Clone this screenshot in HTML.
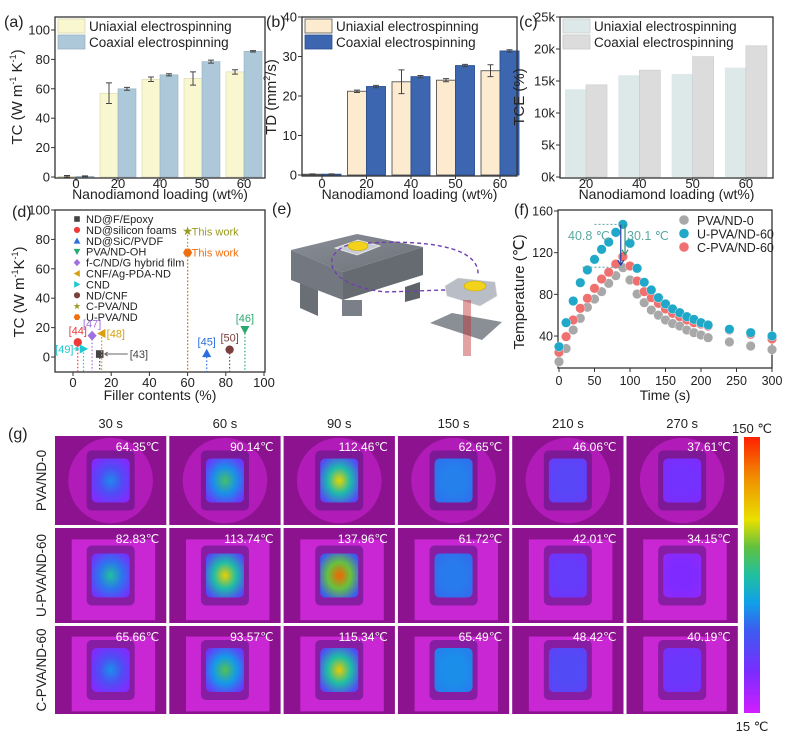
<!DOCTYPE html>
<html><head><meta charset="utf-8"><style>
body{margin:0;background:#fff;}
svg{display:block;font-family:"Liberation Sans",sans-serif;}
</style></head><body>
<svg id="fig" width="794" height="737" viewBox="0 0 794 737" xmlns="http://www.w3.org/2000/svg">
<defs>
<linearGradient id="cbar" x1="0" y1="1" x2="0" y2="0">
<stop offset="0" stop-color="#d21eff"/><stop offset="0.15" stop-color="#7a2cff"/><stop offset="0.3" stop-color="#3c5cf0"/><stop offset="0.4" stop-color="#10a0e8"/><stop offset="0.5" stop-color="#20c0a0"/><stop offset="0.6" stop-color="#60c040"/><stop offset="0.7" stop-color="#e8e000"/><stop offset="0.85" stop-color="#f09000"/><stop offset="1" stop-color="#ff2000"/>
</linearGradient>
<linearGradient id="boxTop" x1="0" y1="0" x2="1" y2="1"><stop offset="0" stop-color="#8a8f98"/><stop offset="1" stop-color="#6d7279"/></linearGradient>
</defs>
</svg>
<script>
// ---- data ----
var aCats=["0","20","40","50","60"];
var aUni=[0.5,57,66.5,67,71.5];
var aCo=[0.5,60,69.5,78.5,85.5];
var aUniErr=[0.5,7,1.5,4.5,1.5];
var aCoErr=[0.3,1,0.7,1,0.5];
var aTicks=[0,20,40,60,80,100];

var bCats=["0","20","40","50","60"];
var bUni=[0.2,21.2,23.6,24,26.4];
var bCo=[0.2,22.4,24.9,27.7,31.4];
var bUniErr=[0.1,0.3,3,0.4,1.5];
var bCoErr=[0.1,0.3,0.3,0.3,0.3];
var bTicks=[0,10,20,30,40];

var cCats=["20","40","50","60"];
var cUni=[13.7,15.9,16.1,17.1];
var cCo=[14.4,16.7,18.8,20.5];
var cTicks=[0,5,10,15,20,25];

var dNames=["ND@F/Epoxy","ND@silicon foams","ND@SiC/PVDF","PVA/ND-OH","f-C/ND/G hybrid film","CNF/Ag-PDA-ND","CND","ND/CNF","C-PVA/ND","U-PVA/ND"];
var dX=[14,2.5,70,90,10,15,5.5,82,60,60];
var dY=[2,10,2.5,18.5,14.5,16,5.5,5,85.5,71];
var dRefs=["[43]","[44]","[45]","[46]","[47]","[48]","[49]","[50]","This work","This work"];
var dColors=["#444444","#f03a3a","#2a6ee0","#2aa870","#a070e0","#d8a010","#20c8d0","#7a4040","#9a9a20","#f07010"];
var dMarkers=["square","circle","tri","dtri","diamond","ltri","rtri","circle","star","hex"];
var dXTicks=[0,20,40,60,80,100];
var dYTicks=[0,20,40,60,80,100];

var fTime=[0,10,20,30,40,50,60,70,80,90,100,110,120,130,140,150,160,170,180,190,200,210,240,270,300];
var fPVA=[15.4,28,45.8,57,67.6,75.5,82.6,90.6,97.9,105.6,93.8,80.3,72,65,60,55.4,52,49.6,45.8,43.2,41,38.4,34.3,30.4,27];
var fU=[29.8,52.8,73.6,91.2,103.4,113.6,123.2,130.2,139.5,147.2,129,105,91.6,84.2,76.8,70.8,66,62.4,58.6,56,52.8,50.6,46.5,43.2,40];
var fC=[24.4,39.4,55.4,66.6,76.2,85.8,94.7,101.2,109.1,116.1,107.2,92.8,82.6,76.8,71.4,66,61.8,58.6,55.4,52.8,51.5,49.6,45.8,41.7,37.2];
var fXTicks=[0,50,100,150,200,250,300];
var fYTicks=[40,80,120,160];

var gTimes=["30 s","60 s","90 s","150 s","210 s","270 s"];
var gRows=["PVA/ND-0","U-PVA/ND-60","C-PVA/ND-60"];
var gT0=[64.35,90.14,112.46,62.65,46.06,37.61];
var gT1=[82.83,113.74,137.96,61.72,42.01,34.15];
var gT2=[65.66,93.57,115.34,65.49,48.42,40.19];

// ---- helpers ----
var NS="http://www.w3.org/2000/svg";
var svg=document.getElementById('fig');
function mk(tag,attrs,parent){var e=document.createElementNS(NS,tag);for(var k in attrs)e.setAttribute(k,attrs[k]);(parent||svg).appendChild(e);return e;}
function txt(s,x,y,size,anchor,parent,fill){var e=mk('text',{x:x,y:y,'font-size':size,'text-anchor':anchor||'start',fill:fill||'#222'},parent);e.textContent=s;return e;}

// ---- generic bar panel ----
function barPanel(p){
  var g=mk('g',{});
  
  
  function X(i){return p.x0+p.dx*i;}
  function Y(v){return p.yb-(v-0)*p.k;}
  for(var i=0;i<p.cats.length;i++){
    var cx=X(i);
    var r1=mk('rect',{x:cx-p.bw,y:Y(p.uni[i]),width:p.bw,height:Y(0)-Y(p.uni[i]),fill:p.c1,stroke:p.s1,'stroke-width':p.sw},g);
    
    
    var r2=mk('rect',{x:cx,y:Y(p.co[i]),width:p.bw,height:Y(0)-Y(p.co[i]),fill:p.c2,stroke:p.s2,'stroke-width':p.sw},g);
    
    
    if(p.uErr){
      [[cx-p.bw/2,p.uni[i],p.uErr[i]],[cx+p.bw/2,p.co[i],p.cErr[i]]].forEach(function(e){
        var eb=mk('path',{d:'M'+(e[0]-3)+' '+Y(e[1]+e[2])+'h6M'+e[0]+' '+Y(e[1]+e[2])+'V'+Y(e[1]-e[2])+'M'+(e[0]-3)+' '+Y(e[1]-e[2])+'h6',stroke:'#444','stroke-width':1,fill:'none'},g);
        
        
      });
    }
    var tl=txt(p.cats[i],cx,188,13,'middle',g);
    
    
    mk('line',{x1:cx,x2:cx,y1:p.yb+1,y2:p.yb+4,stroke:'#333'},g);
  }
  var box=mk('rect',{x:p.bx0,y:17,width:p.bx1-p.bx0,height:p.yb+1-17,fill:'none',stroke:'#333','stroke-width':1.3},g);
  
  
  p.ticks.forEach(function(t){
    mk('line',{x1:p.bx0-4,x2:p.bx0,y1:Y(t),y2:Y(t),stroke:'#333'},g);
    var l=txt(t+(p.suffix||''),p.bx0-5,Y(t)+4.5,13,'end',g);
    
    
  });
  var xt=txt('Nanodiamond loading (wt%)',(p.bx0+p.bx1)/2,199,14,'middle',g);
  
  
  var yt=mk('text',{transform:'translate('+p.ytx+','+p.yty+') rotate(-90)','font-size':15,'text-anchor':'middle',fill:'#222'},g);
  yt.innerHTML=p.ytitle;
  
  
  var pl=txt(p.label,p.lx,27,16,'start',g);
  
  
  var lg=mk('g',{},g);
  
  
  var s1=mk('rect',{x:p.bx0+3,y:19,width:27,height:14,fill:p.c1,stroke:p.s1==='none'?'#ccc':p.s1,'stroke-width':0.8},lg);
  
  
  var s2=mk('rect',{x:p.bx0+3,y:35,width:27,height:14,fill:p.c2,stroke:p.s2==='none'?'#bbb':p.s2,'stroke-width':0.8},lg);
  
  
  var e1=txt('Uniaxial electrospinning',p.bx0+34,31,13.5,'start',lg);
  
  
  var e2=txt('Coaxial electrospinning',p.bx0+34,47,13.5,'start',lg);
  
  
}
barPanel({name:'panel-a-tc-bar-chart',cats:aCats,uni:aUni,co:aCo,uErr:aUniErr,cErr:aCoErr,ticks:aTicks,x0:76,dx:42,bw:18,yb:177,k:1.47,bx0:55,bx1:265,c1:'#f8f7cf',c2:'#adc8d8',s1:'#d8d6b0',s2:'#97b2c4',sw:0.6,ytitle:'TC (W m<tspan font-size="9" dy="-6">-1</tspan><tspan dy="6"> K</tspan><tspan font-size="9" dy="-6">-1</tspan><tspan dy="6">)</tspan>',ytx:22,yty:97,label:'(a)',lx:4});
barPanel({name:'panel-b-td-bar-chart',cats:bCats,uni:bUni,co:bCo,uErr:bUniErr,cErr:bCoErr,ticks:bTicks,x0:322,dx:44.5,bw:19,yb:175,k:3.95,bx0:302,bx1:517,c1:'#fdebd0',c2:'#3c66b0',s1:'#555',s2:'#2c4f90',sw:0.9,ytitle:'TD (mm<tspan font-size="9" dy="-6">2</tspan><tspan dy="6">/s)</tspan>',ytx:276,yty:97,label:'(b)',lx:266});
barPanel({name:'panel-c-tce-bar-chart',cats:cCats,uni:cUni,co:cCo,ticks:cTicks,suffix:'k',x0:586,dx:53.3,bw:21,yb:177,k:6.4,bx0:560,bx1:773,c1:'#dde9e9',c2:'#dcdcdc',s1:'none',s2:'#c8c8c8',sw:0.6,ytitle:'TCE (%)',ytx:524,yty:97,label:'(c)',lx:519});

// ---- panel d ----
(function(){
  var g=mk('g',{});
  
  
  function X(v){return 73+1.91*v;}
  function Y(v){return 357-1.47*v;}
  var box=mk('rect',{x:55,y:210,width:210,height:162,fill:'none',stroke:'#333','stroke-width':1.3},g);
  
  
  dXTicks.forEach(function(t){mk('line',{x1:X(t),x2:X(t),y1:372,y2:376,stroke:'#333'},g);
    var l=txt(t,X(t),387,13,'middle',g);
    
    });
  dYTicks.forEach(function(t){mk('line',{x1:51,x2:55,y1:Y(t),y2:Y(t),stroke:'#333'},g);
    var l=txt(t,50,Y(t)+4.5,13,'end',g);
    
    });
  var xt=txt('Filler contents (%)',160,400,14,'middle',g);
  
  
  var yt=mk('text',{transform:'translate(24,292) rotate(-90)','font-size':15,'text-anchor':'middle',fill:'#222'},g);
  yt.innerHTML='TC (W m<tspan font-size="9" dy="-6">-1</tspan><tspan dy="6">K</tspan><tspan font-size="9" dy="-6">-1</tspan><tspan dy="6">)</tspan>';
  
  
  var pl=txt('(d)',12,217,16,'start',g);
  
  
  function marker(type,x,y,s,c,par){
    var e;
    if(type==='square')e=mk('rect',{x:x-s,y:y-s,width:2*s,height:2*s,fill:c},par);
    else if(type==='circle')e=mk('circle',{cx:x,cy:y,r:s*1.1,fill:c},par);
    else if(type==='tri')e=mk('polygon',{points:[x,y-s*1.2,x+s*1.2,y+s,x-s*1.2,y+s].join(' '),fill:c},par);
    else if(type==='dtri')e=mk('polygon',{points:[x,y+s*1.2,x+s*1.2,y-s,x-s*1.2,y-s].join(' '),fill:c},par);
    else if(type==='ltri')e=mk('polygon',{points:[x-s*1.2,y,x+s,y-s*1.2,x+s,y+s*1.2].join(' '),fill:c},par);
    else if(type==='rtri')e=mk('polygon',{points:[x+s*1.2,y,x-s,y-s*1.2,x-s,y+s*1.2].join(' '),fill:c},par);
    else if(type==='diamond')e=mk('polygon',{points:[x,y-s*1.3,x+s*1.2,y,x,y+s*1.3,x-s*1.2,y].join(' '),fill:c},par);
    else if(type==='star'){var pts=[];for(var k=0;k<10;k++){var r=k%2?s*0.5:s*1.3,a=-Math.PI/2+k*Math.PI/5;pts.push(x+r*Math.cos(a),y+r*Math.sin(a));}e=mk('polygon',{points:pts.join(' '),fill:c},par);}
    else {var pts2=[];for(var k2=0;k2<6;k2++){var a2=k2*Math.PI/3;pts2.push(x+s*1.2*Math.cos(a2),y+s*1.2*Math.sin(a2));}e=mk('polygon',{points:pts2.join(' '),fill:c},par);}
    return e;
  }
  var lg=mk('g',{},g);
  
  
  for(var i=0;i<dNames.length;i++){
    var m=marker(dMarkers[i],77,219+i*10.9,2.8,dColors[i],lg);
    
    
    var t=txt(dNames[i],86,223+i*10.9,11,'start',lg);
    
    
  }
  for(var j=0;j<dX.length;j++){
    var px=X(dX[j]),py=Y(dY[j]);
    var dl=mk('line',{x1:px,x2:px,y1:py,y2:372,stroke:dColors[j],'stroke-width':1.2,'stroke-dasharray':'1.5,2'},g);
    
    
    var pm=marker(dMarkers[j],px,py,3.8,dColors[j],g);
    
    
    var lx=px,ly=py-8,anc='middle';
    if(dRefs[j]==='This work'){lx=px+4;ly=py+4;anc='start';}
    if(dRefs[j]==='[43]'){lx=px+30;ly=py+4;anc='start';
      var ar=mk('path',{d:'M'+(px+28)+' '+py+'H'+(px+5)+'m3 -2l-3 2l3 2',stroke:'#666',fill:'none','stroke-width':1},g);
      
      }
    if(dRefs[j]==='[49]'){lx=px-10;ly=py+4;anc='end';
      var ar2=mk('path',{d:'M'+(px-10)+' '+py+'H'+(px-5)+'m-3 -2l3 2l-3 2',stroke:dColors[j],fill:'none','stroke-width':1},g);
      
      }
    if(dRefs[j]==='[48]'){lx=px+5;ly=py+4;anc='start';}
    var rl=txt(dRefs[j],lx,ly,11,anc,g,dColors[j]);
    
    
  }
})();

// ---- panel e illustration ----
(function(){
  var g=mk('g',{});
  
  
  var pl=txt('(e)',272,214,16,'start',g);
  
  
  mk('polygon',{points:'300,282 318,290 318,316 300,308',fill:'#6a6f76'},g);
  mk('polygon',{points:'342,300 362,300 362,316 342,316',fill:'#7b8088'},g);
  mk('polygon',{points:'405,287 420,282 420,298 405,302',fill:'#5e636a'},g);
  mk('polygon',{points:'291,250 343,272 343,300 291,280',fill:'#737880'},g);
  mk('polygon',{points:'343,272 423,247 423,275 343,300',fill:'#666b72'},g);
  var top=mk('polygon',{points:'291,250 357,234 423,247 343,272',fill:'url(#boxTop)'},g);
  
  
  mk('polygon',{points:'335,248 358,240 380,246 357,255',fill:'#c8ccd2',stroke:'#eee','stroke-width':0.8},g);
  var led=mk('ellipse',{cx:358,cy:246,rx:10,ry:4.5,fill:'#f2d21a',stroke:'#c8a800','stroke-width':0.6},g);
  
  
  var dash=mk('path',{d:'M348 245 C 320 255, 325 285, 385 292 L 475 289 M 368 243 C 420 240, 480 245, 478 275',fill:'none',stroke:'#7040b0','stroke-width':1.4,'stroke-dasharray':'4,3'},g);
  
  
  mk('polygon',{points:'445,286 458,278 495,282 497,296 480,306 447,296',fill:'#b9bec6',stroke:'#ddd','stroke-width':0.6},g);
  var led2=mk('ellipse',{cx:475,cy:286,rx:11,ry:5,fill:'#f2d21a',stroke:'#c8a800','stroke-width':0.6},g);
  
  
  var plate=mk('polygon',{points:'430,323 452,313 502,322 482,340',fill:'#8a8e95'},g);
  
  
  for(var i=0;i<4;i++){var l=mk('line',{x1:464+i*2,x2:464+i*2,y1:300,y2:356,stroke:'#c03030','stroke-width':0.9},g);
    
    }
})();

// ---- panel f ----
(function(){
  var g=mk('g',{});
  
  
  function X(t){return 559+t*0.71;}
  function Y(v){return 211+(160-v)*1.042;}
  var box=mk('rect',{x:558,y:210,width:214,height:158,fill:'none',stroke:'#333','stroke-width':1.3},g);
  
  
  fXTicks.forEach(function(t){mk('line',{x1:X(t),x2:X(t),y1:368,y2:372,stroke:'#333'},g);
    var l=txt(t,X(t),385,12.5,'middle',g);
    
    });
  fYTicks.forEach(function(t){mk('line',{x1:554,x2:558,y1:Y(t),y2:Y(t),stroke:'#333'},g);
    var l=txt(t,553,Y(t)+4.5,12.5,'end',g);
    
    });
  var xt=txt('Time (s)',665,400,14,'middle',g);
  
  
  var yt=mk('text',{transform:'translate(524,292) rotate(-90)','font-size':15,'text-anchor':'middle',fill:'#222'},g);
  yt.textContent='Temperature (℃)';
  
  
  var pl=txt('(f)',514,215,16,'start',g);
  
  
  var series=[[fPVA,'#a8a8a8','PVA/ND-0'],[fC,'#f07070','C-PVA/ND-60'],[fU,'#20a8c8','U-PVA/ND-60']];
  series.forEach(function(s){
    for(var i=0;i<fTime.length;i++){
      var c=mk('circle',{cx:X(fTime[i]),cy:Y(s[0][i]),r:4.8,fill:s[1],stroke:'#fff','stroke-width':0.4},g);
      
      
    }
  });
  var a1=mk('path',{d:'M'+X(50)+' '+Y(147.2)+'H'+X(90)+'M'+X(33)+' '+Y(106)+'H'+X(90),stroke:'#5aa8a0','stroke-dasharray':'2,2',fill:'none'},g);
  
  
  var a2=mk('path',{d:'M'+X(87)+' '+Y(147)+'V'+Y(108)+'m-3 -5l3 5l3 -5',stroke:'#2040a0','stroke-width':1.2,fill:'none'},g);
  
  
  var a3=mk('path',{d:'M'+X(93)+' '+Y(147)+'V'+Y(118)+'m-3 -5l3 5l3 -5',stroke:'#3a8a70','stroke-width':1.2,fill:'none'},g);
  
  
  var t1=txt('40.8 ℃',568,240,12.5,'start',g,'#5aa8a0');
  
  
  var t2=txt('30.1 ℃',627,240,12.5,'start',g,'#5aa8a0');
  
  
  var lg=mk('g',{},g);
  
  
  [['PVA/ND-0','#a8a8a8'],['U-PVA/ND-60','#20a8c8'],['C-PVA/ND-60','#f07070']].forEach(function(e,i){
    var c=mk('circle',{cx:684,cy:220+i*13.5,r:4.8,fill:e[1]},lg);
    
    
    var t=txt(e[0],697,225+i*13.5,12.5,'start',lg);
    
    
  });
})();

// ---- panel g thermal images ----
(function(){
  var g=mk('g',{});
  
  
  var pl=txt('(g)',8,439,16,'start',g);
  
  
  var stops=[[0,[210,30,255]],[0.15,[122,44,255]],[0.3,[60,92,240]],[0.4,[16,160,232]],[0.5,[32,192,160]],[0.6,[96,192,64]],[0.7,[232,224,0]],[0.85,[240,144,0]],[1,[255,32,0]]];
  function col(T){var t=Math.max(0,Math.min(1,(T-15)/135));
    for(var i=1;i<stops.length;i++){if(t<=stops[i][0]){var a=stops[i-1],b=stops[i],f=(t-a[0])/(b[0]-a[0]);
      return 'rgb('+[0,1,2].map(function(k){return Math.round(a[1][k]+(b[1][k]-a[1][k])*f);}).join(',')+')';}}
    return 'rgb(255,32,0)';}
  var rows=[gT0,gT1,gT2];
  var rowY=[436,528,626],rowH=[89,95,88];
  var defs=svg.querySelector('defs');
  var colW=111.3,gap=3;
  gTimes.forEach(function(s,c){
    var h=txt(s,55+c*(colW+gap)+colW/2,428,13,'middle',g);
    
    
  });
  rows.forEach(function(arr,r){
    var rl=mk('text',{transform:'translate(46,'+(rowY[r]+rowH[r]/2)+') rotate(-90)','font-size':13.5,'text-anchor':'middle',fill:'#222'},g);
    rl.textContent=gRows[r];
    
    
    for(var c=0;c<arr.length;c++){
      var x=55+c*(colW+gap),y=rowY[r],w=colW,hh=rowH[r],T=arr[c];
      var cell=mk('g',{},g);
      
      
      mk('rect',{x:x,y:y,width:w,height:hh,fill:'#8c1290'},cell);
      if(r>0)mk('rect',{x:x+w*0.15,y:y+hh*0.12,width:w*0.75,height:hh*0.85,fill:'#d52ce0',opacity:0.85},cell);
      else mk('ellipse',{cx:x+w/2,cy:y+hh/2,rx:w*0.38,ry:hh*0.48,fill:'#c020c8',opacity:0.7},cell);
      var heating=c<3;
      var id='gr'+r+'_'+c;
      var gr=mk('radialGradient',{id:id,cx:'0.5',cy:'0.5',r:'0.6'},defs);
      mk('stop',{offset:'0','stop-color':col(T)},gr);
      mk('stop',{offset:'0.5','stop-color':col(heating?T-(T-20)*0.35:T)},gr);
      mk('stop',{offset:'1','stop-color':col(heating?T-(T-20)*0.7:T-3)},gr);
      mk('rect',{x:x+w/2-24,y:y+hh/2-30,width:48,height:60,rx:5,fill:'#5a1880',opacity:0.6},cell);
      var chip=mk('rect',{x:x+w/2-19,y:y+hh/2-22,width:38,height:44,rx:5,fill:'url(#'+id+')'},cell);
      
      
      var tt=txt(T.toFixed(2)+'℃',x+w-7,y+15,12,'end',cell,'#fff');
      
      
    }
  });
  var cb=mk('rect',{x:744,y:437,width:16,height:276,fill:'url(#cbar)'},g);
  
  
  var c1=txt('150 ℃',752,433,13,'middle',g);
  
  
  var c2=txt('15 ℃',752,731,13,'middle',g);
  
  
})();
</script>
</body></html>
